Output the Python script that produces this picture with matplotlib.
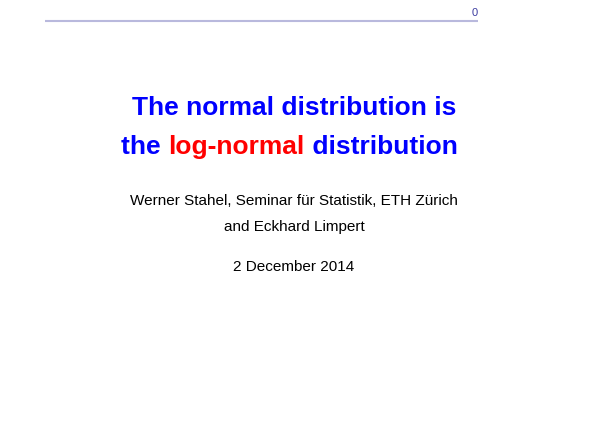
import matplotlib
matplotlib.use("Agg")
import matplotlib.pyplot as plt

plt.rcParams['font.family'] = ['Liberation Sans', 'DejaVu Sans']

page_number = "0"
title_line1 = "The normal distribution is"
title_line2 = ["the ", "log-normal", " distribution"]
title_line2_colors = ["#0000ff", "#ff0000", "#0000ff"]
authors = ["Werner Stahel, Seminar für Statistik, ETH Zürich", "and Eckhard Limpert"]
date = "2 December 2014"

W, H = 600, 424
fig = plt.figure(figsize=(W / 100, H / 100), dpi=100)
ax = fig.add_axes([0, 0, 1, 1])
ax.set_xlim(0, W)
ax.set_ylim(H, 0)
ax.axis('off')

# header rule and page number
ax.plot([45, 478], [21, 21], color='#b9b9dd', lw=1.5, solid_capstyle='butt')
ax.text(478, 16, page_number, ha='right', va='baseline', fontsize=8, color='#3c3ca0')

cx = 294
ax.text(cx, 115, title_line1, ha='center', va='baseline', fontsize=19,
        fontweight='bold', color='#0000ff')

# second title line with a red word in the middle
fig.canvas.draw()
r = fig.canvas.get_renderer()
pieces = []
for s, c in zip(title_line2, title_line2_colors):
    t = ax.text(0, 154, s, ha='left', va='baseline', fontsize=19,
                fontweight='bold', color=c)
    pieces.append(t)
inv = ax.transData.inverted()
widths = []
for t in pieces:
    bb = t.get_window_extent(r)
    x0 = inv.transform((bb.x0, 0))[0]
    x1 = inv.transform((bb.x1, 0))[0]
    widths.append(x1 - x0)
x = 289.5 - sum(widths) / 2
for t, w in zip(pieces, widths):
    t.set_x(x)
    x += w

ax.text(cx, 205, authors[0], ha='center', va='baseline', fontsize=11, color='black')
ax.text(cx, 231, authors[1], ha='center', va='baseline', fontsize=11, color='black')
ax.text(cx, 271, date, ha='center', va='baseline', fontsize=11, color='black')

fig.savefig("out.png", dpi=100, facecolor='white')
